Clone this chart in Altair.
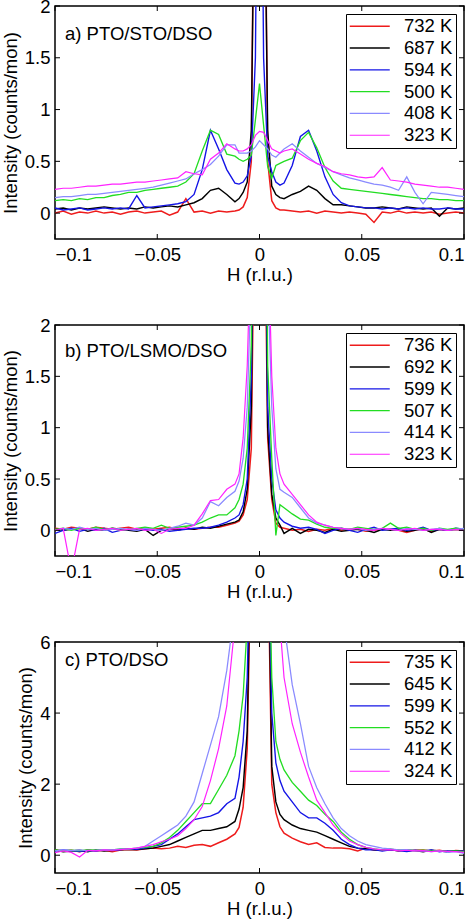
import altair as alt
import pandas as pd

# Reciprocal-space positions (r.l.u.), shared by every scan
H = [-0.100, -0.096, -0.092, -0.088, -0.084, -0.080, -0.076, -0.072, -0.068, -0.064,
     -0.060, -0.056, -0.052, -0.048, -0.044, -0.040, -0.036, -0.032, -0.028, -0.024,
     -0.020, -0.016, -0.012,
     -0.010, -0.008, -0.006, -0.004, -0.002, 0.000, 0.002, 0.004, 0.006, 0.008, 0.010,
     0.012, 0.016, 0.020, 0.024, 0.028, 0.032, 0.036, 0.040, 0.044, 0.048,
     0.052, 0.056, 0.060, 0.064, 0.068, 0.072, 0.076, 0.080, 0.084, 0.088,
     0.092, 0.096, 0.100]

# a) PTO/STO/DSO
temps_a = ["732 K", "687 K", "594 K", "500 K", "408 K", "323 K"]
a_732 = [0.00, 0.02, -0.01, 0.01, 0.00, 0.02, 0.00, 0.01, -0.01, 0.01, 0.02, 0.00, 0.01, 0.02, -0.02, 0.01, 0.14, 0.01, 0.02, 0.00, 0.02, 0.01, 0.02,
         0.03, 0.06, 0.15, 0.50, 5.0, 9.0, 5.0, 0.50, 0.12, 0.05, 0.03,
         0.03, 0.02, 0.01, 0.02, 0.00, 0.02, 0.01, 0.00, 0.01, 0.00, -0.01, -0.09, 0.01, 0.00, 0.02, 0.00, 0.01, 0.00, 0.01, -0.01, 0.00, 0.01, 0.00]
a_687 = [0.04, 0.05, 0.03, 0.05, 0.04, 0.05, 0.06, 0.05, 0.04, 0.05, 0.04, 0.06, 0.05, 0.06, 0.07, 0.06, 0.08, 0.10, 0.14, 0.22, 0.24, 0.18, 0.11,
         0.14, 0.20, 0.30, 0.80, 4.0, 8.0, 4.0, 0.80, 0.26, 0.18, 0.15,
         0.14, 0.18, 0.21, 0.26, 0.22, 0.14, 0.08, 0.08, 0.07, 0.06, 0.05, 0.05, 0.06, 0.05, 0.04, 0.06, 0.05, 0.04, 0.05, -0.03, 0.05, 0.04, 0.05]
a_594 = [0.05, 0.03, 0.04, 0.05, 0.03, 0.04, 0.05, 0.04, 0.05, 0.04, 0.17, 0.05, 0.06, 0.07, 0.08, 0.09, 0.11, 0.18, 0.42, 0.80, 0.62, 0.42, 0.29,
         0.28, 0.30, 0.36, 0.55, 1.5, 6.0, 1.5, 0.55, 0.40, 0.30, 0.27,
         0.29, 0.46, 0.74, 0.80, 0.60, 0.35, 0.18, 0.10, 0.07, 0.06, 0.05, 0.05, 0.04, 0.05, 0.04, 0.05, 0.04, 0.05, 0.04, 0.04, 0.05, 0.04, 0.04]
a_500 = [0.12, 0.13, 0.12, 0.14, 0.13, 0.15, 0.15, 0.17, 0.18, 0.20, 0.20, 0.22, 0.23, 0.24, 0.25, 0.26, 0.30, 0.38, 0.60, 0.80, 0.76, 0.57, 0.55,
         0.52, 0.50, 0.52, 0.56, 0.90, 1.25, 0.85, 0.45, 0.34, 0.46, 0.48,
         0.50, 0.53, 0.70, 0.78, 0.63, 0.44, 0.31, 0.24, 0.23, 0.22, 0.21, 0.20, 0.19, 0.18, 0.17, 0.16, 0.15, 0.14, 0.14, 0.13, 0.13, 0.12, 0.12]
a_408 = [0.15, 0.16, 0.16, 0.17, 0.18, 0.18, 0.19, 0.20, 0.21, 0.22, 0.23, 0.24, 0.25, 0.27, 0.29, 0.31, 0.33, 0.38, 0.42, 0.47, 0.55, 0.66, 0.66,
         0.58, 0.58, 0.58, 0.60, 0.64, 0.70, 0.66, 0.62, 0.56, 0.54, 0.58,
         0.62, 0.67, 0.60, 0.54, 0.48, 0.44, 0.40, 0.37, 0.34, 0.32, 0.30, 0.28, 0.27, 0.25, 0.22, 0.35, 0.20, 0.09, 0.20, 0.19, 0.18, 0.17, 0.16]
a_323 = [0.23, 0.24, 0.24, 0.25, 0.26, 0.26, 0.27, 0.28, 0.28, 0.29, 0.30, 0.30, 0.31, 0.32, 0.33, 0.34, 0.40, 0.38, 0.37, 0.52, 0.58, 0.67, 0.62,
         0.60, 0.60, 0.62, 0.66, 0.75, 0.79, 0.78, 0.70, 0.62, 0.60, 0.58,
         0.60, 0.62, 0.57, 0.52, 0.48, 0.45, 0.40, 0.38, 0.37, 0.35, 0.34, 0.35, 0.44, 0.32, 0.31, 0.30, 0.28, 0.27, 0.26, 0.25, 0.25, 0.24, 0.23]

# b) PTO/LSMO/DSO
temps_b = ["736 K", "692 K", "599 K", "507 K", "414 K", "323 K"]
b_736 = [0.02, 0.01, 0.03, 0.02, 0.01, 0.03, 0.02, 0.01, 0.02, 0.03, 0.01, 0.02, 0.01, 0.02, 0.03, 0.01, 0.02, 0.01, 0.02, 0.03, 0.03, 0.05, 0.07,
         0.09, 0.15, 0.30, 0.80, 4.0, 8.0, 4.0, 0.90, 0.30, 0.07, 0.03,
         0.02, 0.00, 0.01, -0.01, 0.01, 0.00, 0.02, 0.00, 0.01, 0.01, -0.01, 0.00, 0.01, 0.01, 0.00, -0.02, 0.00, 0.01, -0.01, 0.01, 0.00, 0.01, 0.00]
b_692 = [0.01, 0.00, 0.01, 0.02, -0.01, 0.01, 0.00, 0.02, 0.01, 0.00, -0.01, 0.01, -0.05, 0.00, 0.01, 0.00, 0.02, 0.01, 0.03, 0.02, 0.04, 0.06, 0.08,
         0.10, 0.18, 0.40, 1.2, 5.0, 8.0, 5.0, 1.0, 0.35, 0.12, 0.05,
         -0.03, 0.02, -0.03, 0.01, 0.00, -0.02, 0.01, -0.01, 0.00, 0.01, 0.00, -0.02, 0.01, 0.00, 0.01, -0.01, 0.00, 0.02, -0.02, 0.01, 0.00, 0.01, 0.00]
b_599 = [-0.03, 0.00, 0.02, -0.01, 0.01, 0.00, 0.02, -0.02, 0.00, 0.01, 0.00, 0.01, 0.00, 0.01, -0.01, 0.00, 0.01, 0.02, 0.02, 0.03, 0.05, 0.08, 0.12,
         0.15, 0.25, 0.50, 1.5, 6.0, 8.0, 6.0, 1.2, 0.50, 0.20, 0.12,
         0.08, 0.04, 0.02, 0.03, 0.01, -0.03, 0.00, 0.02, 0.00, -0.02, 0.01, 0.03, 0.00, 0.01, 0.02, 0.00, 0.01, 0.03, 0.00, 0.01, 0.00, 0.02, 0.01]
b_507 = [0.01, 0.02, 0.00, 0.02, 0.01, 0.03, 0.01, 0.02, 0.00, 0.01, 0.02, 0.03, 0.02, 0.05, 0.02, 0.03, 0.04, 0.05, 0.08, 0.12, 0.15, 0.15, 0.22,
         0.30, 0.45, 0.80, 1.8, 6.0, 9.0, 6.0, 1.6, 0.70, -0.05, 0.25,
         0.22, 0.16, 0.11, 0.10, 0.06, 0.03, 0.02, 0.02, 0.01, 0.03, 0.02, 0.01, 0.02, 0.07, 0.02, 0.03, 0.01, 0.02, 0.00, 0.02, 0.01, 0.02, 0.01]
b_414 = [0.00, 0.02, 0.01, 0.03, 0.01, 0.02, 0.00, 0.01, 0.02, 0.01, 0.00, 0.02, 0.01, 0.00, 0.02, 0.04, 0.07, 0.05, 0.12, 0.28, 0.24, 0.32, 0.38,
         0.48, 0.70, 1.20, 2.5, 7.0, 9.0, 7.0, 2.5, 1.2, 0.60, 0.40,
         0.37, 0.32, 0.22, 0.12, 0.07, 0.05, 0.03, 0.02, 0.01, 0.02, 0.00, 0.01, 0.02, 0.01, 0.00, 0.02, 0.01, 0.00, 0.01, 0.02, 0.00, 0.01, 0.02]
b_323 = [0.00, 0.02, -0.40, 0.01, 0.02, 0.00, 0.01, 0.02, 0.00, 0.01, 0.02, 0.00, 0.01, -0.03, 0.01, 0.02, 0.02, 0.05, 0.16, 0.29, 0.30, 0.40, 0.45,
         0.55, 0.90, 1.60, 3.0, 7.0, 9.0, 7.0, 3.0, 1.5, 0.80, 0.55,
         0.45, 0.35, 0.25, 0.15, 0.08, 0.05, 0.03, 0.02, 0.01, 0.02, 0.01, 0.00, 0.02, 0.01, 0.00, 0.01, 0.02, 0.00, 0.01, 0.01, 0.00, 0.01, 0.00]

# c) PTO/DSO
temps_c = ["735 K", "645 K", "599 K", "552 K", "412 K", "324 K"]
c_735 = [0.15, 0.12, 0.14, 0.10, 0.15, 0.12, 0.14, 0.10, 0.15, 0.16, 0.15, 0.18, 0.20, 0.18, 0.20, 0.25, 0.22, 0.28, 0.30, 0.25, 0.35, 0.45, 0.60,
         0.78, 1.35, 3.0, 9.0, 12.0, 12.0, 12.0, 9.0, 2.0, 1.2, 0.80,
         0.62, 0.48, 0.38, 0.30, 0.35, 0.22, 0.20, 0.20, 0.18, 0.12, 0.20, 0.15, 0.14, 0.16, 0.15, 0.12, 0.14, 0.15, 0.12, 0.14, 0.10, 0.13, 0.12]
c_645 = [0.15, 0.10, 0.12, 0.14, 0.10, 0.15, 0.12, 0.14, 0.15, 0.17, 0.16, 0.18, 0.20, 0.25, 0.30, 0.40, 0.50, 0.60, 0.70, 0.70, 0.75, 0.80, 0.95,
         1.3, 1.9, 3.5, 10.0, 12.0, 12.0, 12.0, 10.0, 2.5, 1.5, 1.15,
         1.00, 0.85, 0.75, 0.70, 0.65, 0.55, 0.45, 0.35, 0.25, 0.20, 0.18, 0.15, 0.14, 0.16, 0.12, 0.15, 0.13, 0.10, 0.14, 0.12, 0.10, 0.13, 0.11]
c_599 = [0.12, 0.15, 0.13, 0.10, 0.14, 0.12, 0.15, 0.13, 0.16, 0.18, 0.17, 0.20, 0.25, 0.30, 0.45, 0.60, 0.80, 1.00, 1.05, 1.10, 1.20, 1.45, 1.60,
         2.2, 3.2, 5.0, 10.0, 12.0, 12.0, 12.0, 10.0, 4.0, 2.6, 2.1,
         1.8, 1.5, 1.2, 1.05, 1.05, 0.90, 0.70, 0.45, 0.30, 0.20, 0.15, 0.16, 0.12, 0.15, 0.13, 0.10, 0.14, 0.12, 0.15, 0.10, 0.13, 0.11, 0.12]
c_552 = [0.15, 0.12, 0.14, 0.13, 0.15, 0.14, 0.16, 0.15, 0.18, 0.17, 0.20, 0.22, 0.25, 0.35, 0.50, 0.70, 0.95, 1.20, 1.45, 1.45, 1.85, 2.25, 2.80,
         3.5, 4.5, 6.5, 10.0, 12.0, 12.0, 12.0, 10.0, 5.0, 3.2, 2.7,
         2.4, 2.05, 1.80, 1.55, 1.40, 1.15, 0.95, 0.65, 0.45, 0.30, 0.22, 0.18, 0.15, 0.17, 0.14, 0.15, 0.13, 0.14, 0.12, 0.13, 0.11, 0.12, 0.10]
c_412 = [0.12, 0.15, 0.13, 0.15, 0.12, 0.14, 0.16, 0.15, 0.17, 0.18, 0.20, 0.25, 0.40, 0.55, 0.70, 0.85, 1.10, 1.50, 2.30, 3.10, 3.90, 5.20, 7.0,
         8.0, 9.5, 11.0, 12.0, 12.0, 12.0, 12.0, 12.0, 11.0, 9.5, 8.0,
         6.5, 4.8, 3.7, 2.5, 1.9, 1.45, 1.05, 0.75, 0.55, 0.40, 0.30, 0.25, 0.20, 0.18, 0.15, 0.16, 0.13, 0.12, 0.10, 0.12, 0.08, 0.10, 0.05]
c_324 = [0.07, 0.12, 0.08, -0.05, 0.14, 0.12, 0.15, 0.14, 0.16, 0.18, 0.20, 0.25, 0.30, 0.38, 0.45, 0.55, 0.75, 1.00, 1.37, 2.10, 3.00, 4.20, 6.50,
         7.5, 9.0, 11.0, 12.0, 12.0, 12.0, 12.0, 11.0, 9.0, 7.5, 6.5,
         5.0, 3.7, 2.9, 2.2, 1.55, 1.20, 0.85, 0.60, 0.40, 0.30, 0.22, 0.18, 0.15, 0.16, 0.12, 0.14, 0.12, 0.13, 0.10, 0.12, 0.11, 0.10, 0.08]

X_TICKS = [-0.1, -0.05, 0.0, 0.05, 0.1]
COLORS = ["#ee1c1c", "#000000", "#1414e6", "#22dd22", "#8a8aff", "#ff22ff"]
WIDTHS = [1.5, 1.2, 1.5, 1.5, 1.2, 1.5]
FONT = "Liberation Sans"
W = 409
TICK = 5
# legend key: a 40 px horizontal stroke drawn from a small symbol size
LEGEND_LINE = "M-4,0H4"


def panel(temps, series, y_domain, y_ticks, label, label_y, h):
    rows = []
    for t, vals in zip(temps, series):
        for x, v in zip(H, vals):
            rows.append({"H": x, "I": v, "T": t})
    df = pd.DataFrame(rows)

    xs = alt.Scale(domain=[-0.1, 0.1], nice=False, zero=False)
    ys = alt.Scale(domain=y_domain, nice=False, zero=False)
    x_axis = alt.Axis(values=X_TICKS, format="~g", labelPadding=6, titlePadding=2)
    y_axis = alt.Axis(values=y_ticks, format="~g", labelPadding=5, titlePadding=4)
    x_enc = alt.X("H:Q", scale=xs, axis=x_axis, title="H (r.l.u.)")
    y_enc = alt.Y("I:Q", scale=ys, axis=y_axis, title="Intensity (counts/mon)")

    lines = alt.Chart(df).mark_line(clip=True).encode(
        x=x_enc,
        y=y_enc,
        color=alt.Color("T:N", scale=alt.Scale(domain=temps, range=COLORS),
                        legend=alt.Legend(title=None, orient="top-right", offset=8,
                                          symbolType=LEGEND_LINE, symbolSize=100,
                                          symbolStrokeWidth=1.5, symbolOffset=11.5,
                                          symbolFillColor="transparent",
                                          labelFontSize=18.5, labelFont=FONT,
                                          labelColor="black", labelOffset=25,
                                          rowPadding=2.8, padding=3,
                                          strokeColor="black", fillColor="white")),
        strokeWidth=alt.StrokeWidth("T:N", scale=alt.Scale(domain=temps, range=WIDTHS),
                                    legend=None),
    )

    # inward-pointing ticks on all four sides of the frame
    xt = pd.DataFrame({"H": X_TICKS})
    yt = pd.DataFrame({"I": y_ticks})
    rule = dict(color="black", strokeWidth=1)
    bottom = alt.Chart(xt).mark_rule(**rule).encode(x=x_enc, y=alt.value(h), y2=alt.value(h - TICK))
    top = alt.Chart(xt).mark_rule(**rule).encode(x=x_enc, y=alt.value(0), y2=alt.value(TICK))
    left = alt.Chart(yt).mark_rule(**rule).encode(y=y_enc, x=alt.value(0), x2=alt.value(TICK))
    right = alt.Chart(yt).mark_rule(**rule).encode(y=y_enc, x=alt.value(W), x2=alt.value(W - TICK))

    text = alt.Chart(pd.DataFrame({"t": [label]})).mark_text(
        align="left", baseline="middle", fontSize=18.5, font=FONT, color="black"
    ).encode(x=alt.value(10), y=alt.value(label_y), text="t:N")

    return alt.layer(lines, bottom, top, left, right, text).properties(width=W, height=h)


pa = panel(temps_a, [a_732, a_687, a_594, a_500, a_408, a_323], [-0.25, 2],
           [0, 0.5, 1, 1.5, 2], "a) PTO/STO/DSO", 28, 233)
pb = panel(temps_b, [b_736, b_692, b_599, b_507, b_414, b_323], [-0.25, 2],
           [0, 0.5, 1, 1.5, 2], "b) PTO/LSMO/DSO", 26, 231)
pc = panel(temps_c, [c_735, c_645, c_599, c_552, c_412, c_324], [-0.5, 6],
           [0, 2, 4, 6], "c) PTO/DSO", 18, 231)

chart = alt.vconcat(pa, pb, pc, spacing=30).resolve_scale(
    color="independent", strokeWidth="independent"
).resolve_legend(color="independent").properties(
    padding={"left": 0, "top": -4, "right": 0, "bottom": 0}, background="white"
).configure_view(
    stroke="black", strokeWidth=1.5
).configure_axis(
    labelFont=FONT, titleFont=FONT, labelFontSize=18.5, titleFontSize=18.5,
    titleFontWeight="normal", labelColor="black", titleColor="black",
    domain=False, ticks=False, grid=False
)

chart.save("out.html", embed_options={"renderer": "svg", "actions": False})
